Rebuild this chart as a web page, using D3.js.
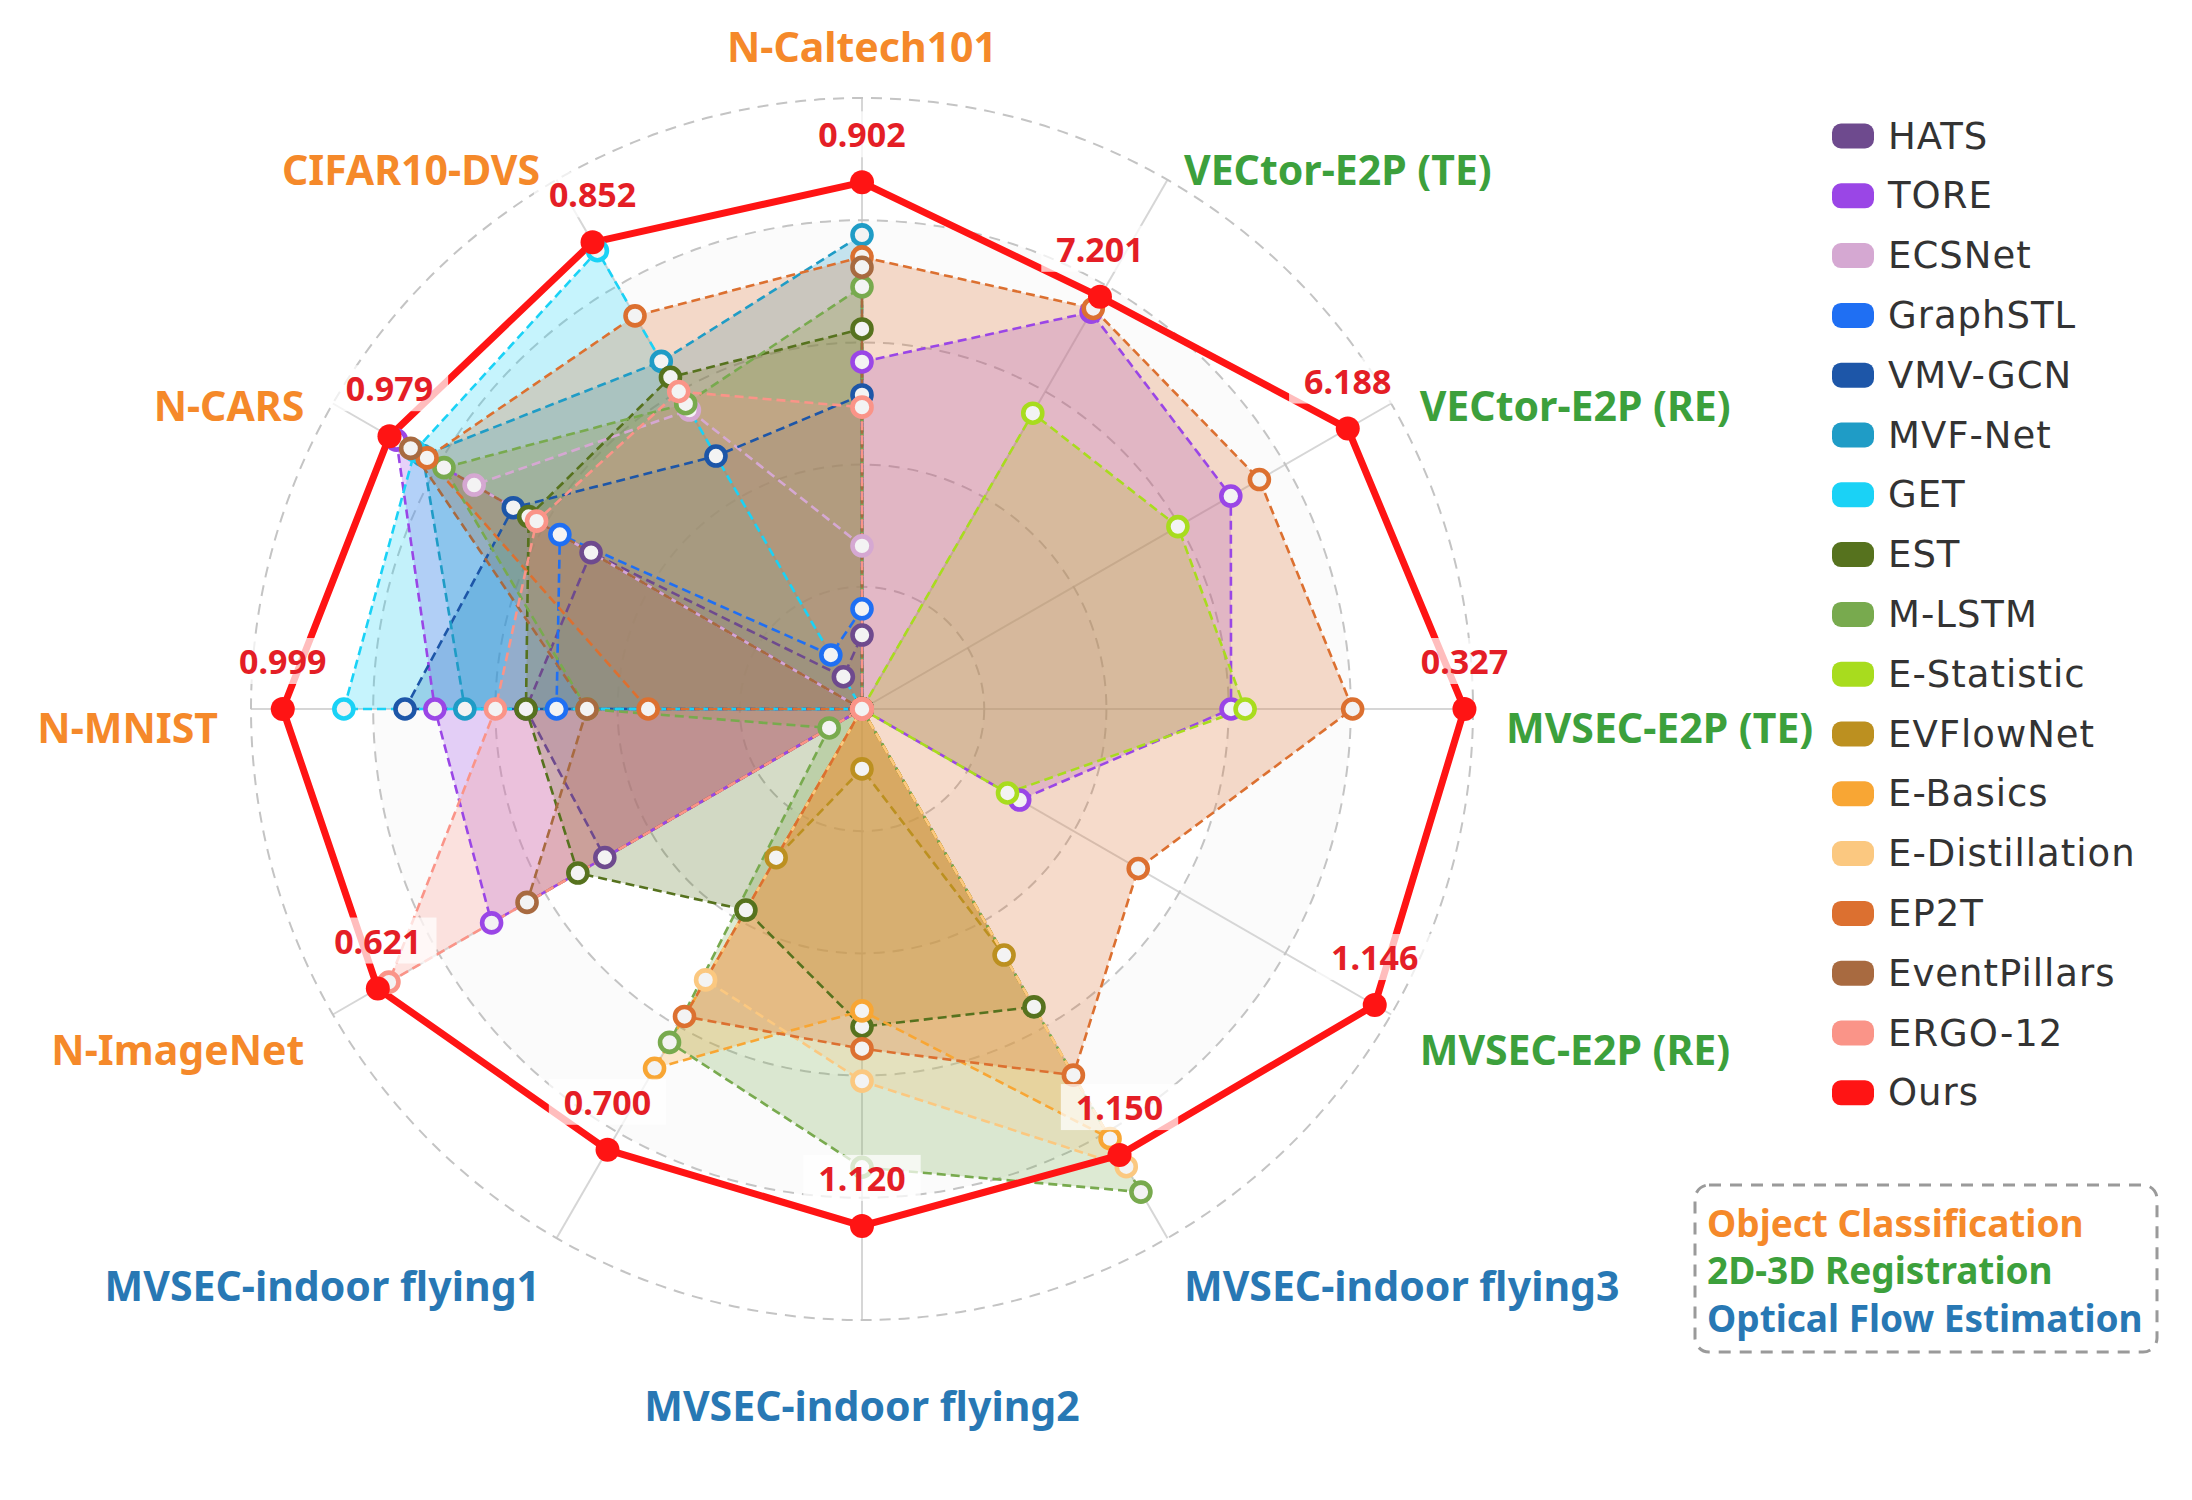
<!DOCTYPE html>
<html><head><meta charset="utf-8">
<script src="https://cdn.jsdelivr.net/npm/d3@7"></script>
<style>body{margin:0;background:#fff;} svg{display:block;}</style>
</head><body><svg id="chart" width="2192" height="1500"></svg>
<script>
// ---------- DATA ----------
const axisNames = ["N-Caltech101","VECtor-E2P (TE)","VECtor-E2P (RE)","MVSEC-E2P (TE)","MVSEC-E2P (RE)",
  "MVSEC-indoor flying3","MVSEC-indoor flying2","MVSEC-indoor flying1","N-ImageNet","N-MNIST","N-CARS","CIFAR10-DVS"];
const axisTasks = ["cls","reg","reg","reg","reg","flow","flow","flow","cls","cls","cls","cls"];
const taskNames = ["Object Classification","2D-3D Registration","Optical Flow Estimation"];
const seriesNames = ["HATS","TORE","ECSNet","GraphSTL","VMV-GCN","MVF-Net","GET","EST","M-LSTM","E-Statistic",
  "EVFlowNet","E-Basics","E-Distillation","EP2T","EventPillars","ERGO-12","Ours"];
// normalised radar scores (0..1 of the radius), axis order as axisNames
const hats          = [0.121,0,0,0,0,0,0,0,0.486,0.55,0.512,0.061];
const tore          = [0.568,0.75,0.697,0.604,0.298,0,0,0,0.70,0.699,0.88,0];
const ecsnet        = [0.267,0,0,0,0,0,0,0,0,0,0.733,0.565];
const graphstl      = [0.164,0,0,0,0,0,0,0,0,0.50,0.571,0.102];
const vmvgcn        = [0.514,0,0,0,0,0,0,0,0,0.748,0.659,0.478];
const mvfnet        = [0.776,0,0,0,0,0,0,0,0,0.65,0.83,0.657];
const get           = [0,0,0,0,0,0,0,0,0,0.848,0.845,0.866];
const est           = [0.622,0,0,0,0,0.563,0.52,0.38,0.537,0.55,0.63,0.627];
const mlstm         = [0.691,0,0,0,0,0.913,0.75,0.63,0.062,0.45,0.79,0.577];
const estatistic    = [0,0.559,0.597,0.627,0.275,0,0,0,0,0,0,0];
const evflownet     = [0,0,0,0,0,0.465,0.098,0.281,0,0,0,0];
const ebasics       = [0,0,0,0,0,0.812,0.494,0.679,0,0,0,0];
const edistillation = [0,0,0,0,0,0.865,0.609,0.512,0,0,0,0];
const ep2t          = [0.740,0.757,0.751,0.803,0.522,0.692,0.556,0.581,0,0.35,0.822,0.743];
const eventpillars  = [0.723,0,0,0,0,0,0,0,0.633,0.45,0.853,0];
const ergo12        = [0.494,0,0,0,0,0,0,0,0.894,0.60,0.615,0.60];
const ours          = [0.862,0.779,0.918,0.986,0.969,0.843,0.846,0.833,0.915,0.948,0.893,0.882];
const oursLabels    = ["0.902","7.201","6.188","0.327","1.146","1.150","1.120","0.700","0.621","0.999","0.979","0.852"];
const ringLevels    = [0.2,0.4,0.6,0.8,1.0];

// ---------- STYLE ----------
const seriesColors = ["#6e4a8e","#9a46e6","#d5a8d2","#1f6ff3","#1d56a8","#1f9cc6","#1ad2f6","#56721e","#78aa4e",
  "#a8dc1e","#bc9020","#f8a634","#fbc880","#dc7030","#a86a40","#fa9488","#ff1414"];
const taskColors = {cls:"#f5892a", reg:"#3ca03c", flow:"#2878b4"};
const allSeries = [hats,tore,ecsnet,graphstl,vmvgcn,mvfnet,get,est,mlstm,estatistic,evflownet,ebasics,edistillation,ep2t,eventpillars,ergo12,ours];

const W = 2192, H = 1500, cx = 862, cy = 709, R = 611;
const svg = d3.select("#chart");
svg.append("rect").attr("width",W).attr("height",H).attr("fill","#fff");
const g = svg.append("g").attr("transform",`translate(${cx},${cy})`);

const n = axisNames.length;
const rScale = d3.scaleLinear().domain([0,1]).range([0,R]);
const aScale = d3.scaleLinear().domain([0,n]).range([0,2*Math.PI]); // 0 = top, clockwise
const pt = (i,v) => { const a = aScale(i); return [Math.sin(a)*rScale(v), -Math.cos(a)*rScale(v)]; };

// split areas
const bands = ringLevels.slice().reverse();
bands.forEach((lv,k)=>{
  g.append("circle").attr("r",rScale(lv)).attr("fill", k%2===0 ? "#ffffff" : "#fbfbfb");
});
// axis lines
for (let i=0;i<n;i++){
  const p = pt(i,1);
  g.append("line").attr("x1",0).attr("y1",0).attr("x2",p[0]).attr("y2",p[1])
    .attr("stroke","#d6d6d6").attr("stroke-width",2);
}
// split lines
ringLevels.forEach(lv=>{
  g.append("circle").attr("r",rScale(lv)).attr("fill","none")
    .attr("stroke","#c4c4c4").attr("stroke-width",2).attr("stroke-dasharray","11,8");
});

const radial = d3.lineRadial().angle((d,i)=>aScale(i)).radius(d=>rScale(d)).curve(d3.curveLinearClosed);

const others = allSeries.slice(0,16);
// areas
others.forEach((s,k)=>{
  g.append("path").attr("d",radial(s)).attr("fill",seriesColors[k]).attr("fill-opacity",0.25).attr("stroke","none");
});
// lines
others.forEach((s,k)=>{
  g.append("path").attr("d",radial(s)).attr("fill","none").attr("stroke",seriesColors[k])
    .attr("stroke-width",2.6).attr("stroke-dasharray","9,5");
});
// Ours line
g.append("path").attr("d",radial(ours)).attr("fill","none").attr("stroke",seriesColors[16])
  .attr("stroke-width",7).attr("stroke-linejoin","round");
// markers
others.forEach((s,k)=>{
  g.append("g").selectAll("circle").data(s).join("circle")
    .attr("cx",(d,i)=>pt(i,d)[0]).attr("cy",(d,i)=>pt(i,d)[1]).attr("r",9.5)
    .attr("fill","#f3f3f3").attr("stroke",seriesColors[k]).attr("stroke-width",4.6);
});
g.append("g").selectAll("circle").data(ours).join("circle")
  .attr("cx",(d,i)=>pt(i,d)[0]).attr("cy",(d,i)=>pt(i,d)[1]).attr("r",12)
  .attr("fill",seriesColors[16]);

// Ours value labels
const lab = g.append("g");
ours.forEach((d,i)=>{
  const p = pt(i,d);
  const t = lab.append("g").attr("transform",`translate(${p[0]},${p[1]-48})`);
  const txt = t.append("text").attr("text-anchor","middle").attr("dominant-baseline","central")
    .attr("font-family","Noto Sans, sans-serif").attr("font-weight","bold").attr("font-size",34)
    .attr("fill","#e41e26").text(oursLabels[i]);
  const bb = txt.node().getBBox();
  t.insert("rect","text").attr("x",bb.x-15).attr("y",-23).attr("width",bb.width+30).attr("height",46)
    .attr("fill","#ffffff").attr("fill-opacity",0.72);
});

// axis names
axisNames.forEach((name,i)=>{
  const a = aScale(i), d = R + 33;
  const x = Math.sin(a)*d, y = -Math.cos(a)*d;
  const s = Math.sin(a);
  let anchor = "middle", dy = 18;
  if (s > 0.01) anchor = "start"; else if (s < -0.01) anchor = "end";
  else dy = (Math.cos(a) > 0) ? -19 : 52;
  g.append("text").attr("x",x).attr("y",y+dy).attr("text-anchor",anchor).attr("dominant-baseline","central")
    .attr("font-family","Noto Sans, sans-serif").attr("font-weight","bold").attr("font-size",41)
    .attr("fill",taskColors[axisTasks[i]]).text(name);
});

// legend
const lg = svg.append("g").attr("transform","translate(1832,136)");
seriesNames.forEach((nm,k)=>{
  const row = lg.append("g").attr("transform",`translate(0,${k*59.8})`);
  row.append("rect").attr("x",0).attr("y",-12.5).attr("width",42).attr("height",25).attr("rx",9)
    .attr("fill",seriesColors[k]);
  row.append("text").attr("x",56).attr("y",0).attr("dominant-baseline","central")
    .attr("font-family","DejaVu Sans, sans-serif").attr("font-size",37).attr("letter-spacing",1)
    .attr("fill","#333").text(nm);
});

// task legend box
const tb = svg.append("g").attr("transform","translate(1695,1185)");
tb.append("rect").attr("x",0).attr("y",0).attr("width",462).attr("height",167).attr("rx",14)
  .attr("fill","#fff").attr("stroke","#9a9a9a").attr("stroke-width",3).attr("stroke-dasharray","12,9");
const tk = ["cls","reg","flow"];
taskNames.forEach((t,k)=>{
  tb.append("text").attr("x",12).attr("y",37+k*47.5).attr("dominant-baseline","central")
    .attr("font-family","Noto Sans, sans-serif").attr("font-weight","bold").attr("font-size",37)
    .attr("fill",taskColors[tk[k]]).text(t);
});
</script>
</body></html>
